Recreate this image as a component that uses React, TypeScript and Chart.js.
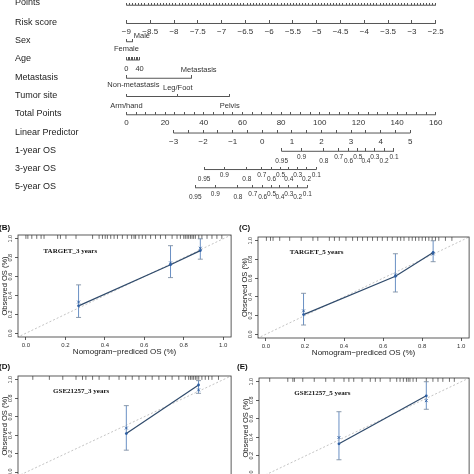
import React, { useEffect, useRef } from 'react';
import { Chart, registerables } from 'chart.js';

Chart.register(...registerables);
Chart.defaults.font.family = '"Liberation Sans", Arial, sans-serif';

// ---------- nomogram data ----------
const rowNames = ['Points', 'Risk score', 'Sex', 'Age', 'Metastasis', 'Tumor site', 'Total Points', 'Linear Predictor', '1-year OS', '3-year OS', '5-year OS'];

const pointsLabels = [0, 10, 20, 30, 40, 50, 60, 70, 80, 90, 100];
const riskScoreLabels = [-9, -8.5, -8, -7.5, -7, -6.5, -6, -5.5, -5, -4.5, -4, -3.5, -3, -2.5];
const sexLevels = ['Female', 'Male'];
const sexPoints = [0, 2.1];
const ageTicks = [0, 5, 10, 15, 20, 25, 30, 35, 40];
const ageLabels = [0, 40];
const agePointsAt40 = 4.25;
const metastasisLevels = ['Non-metastasis', 'Metastasis'];
const metastasisPoints = [0, 21.1];
const tumorSiteLevels = ['Arm/hand', 'Leg/Foot', 'Pelvis'];
const tumorSitePoints = [0, 16.6, 33.4];
const totalPointsLabels = [0, 20, 40, 60, 80, 100, 120, 140, 160];
const linearPredictorLabels = [-3, -2, -1, 0, 1, 2, 3, 4, 5];
const lpZeroTotalPoints = 70.3;
const totalPointsPerLp = 15.3;
const survivalLevels = [0.95, 0.9, 0.8, 0.7, 0.6, 0.5, 0.4, 0.3, 0.2, 0.1];
const os1yTotalPoints = [80.3, 90.6, 102.1, 109.8, 114.9, 119.7, 123.9, 128.5, 133.3, 138.4];
const os3yTotalPoints = [40.2, 50.6, 62.3, 70.0, 75.1, 79.7, 84.0, 88.6, 93.2, 98.2];
const os5yTotalPoints = [35.6, 46.0, 57.7, 65.4, 70.5, 75.1, 79.4, 84.0, 88.6, 93.6];

// ---------- calibration data ----------
const predB = [0.267, 0.733, 0.884];
const obsB = [0.29, 0.725, 0.875];
const corrB = [0.33, 0.745, 0.9];
const loB = [0.167, 0.589, 0.784];
const hiB = [0.512, 0.927, 1.0];
const rugB = [0.0, 0.01, 0.03, 0.055, 0.077, 0.092, 0.161, 0.175, 0.203, 0.254, 0.338, 0.371, 0.388, 0.402, 0.413, 0.43, 0.447, 0.464, 0.489, 0.514, 0.536, 0.548, 0.556, 0.573, 0.59, 0.607, 0.632, 0.657, 0.682, 0.708, 0.741, 0.766, 0.783, 0.8, 0.808, 0.817, 0.825, 0.834, 0.842, 0.85, 0.859, 0.876, 0.892, 0.918, 0.943, 0.968, 0.993];

const predC = [0.193, 0.663, 0.856];
const obsC = [0.21, 0.62, 0.875];
const corrC = [0.25, 0.635, 0.86];
const loC = [0.099, 0.452, 0.776];
const hiC = [0.438, 0.861, 1.0];
const rugC = [0.003, 0.024, 0.037, 0.071, 0.122, 0.181, 0.241, 0.266, 0.325, 0.351, 0.376, 0.41, 0.444, 0.469, 0.495, 0.52, 0.546, 0.571, 0.596, 0.622, 0.647, 0.673, 0.69, 0.707, 0.732, 0.749, 0.766, 0.783, 0.8, 0.817, 0.834, 0.851, 0.868, 0.885, 0.919, 0.952];

const predD = [0.509, 0.875];
const obsD = [0.418, 0.943];
const corrD = [0.478, 0.89];
const loD = [0.239, 0.853];
const hiD = [0.72, 0.99];
const rugD = [0.035, 0.119, 0.187, 0.254, 0.287, 0.304, 0.338, 0.371, 0.422, 0.472, 0.506, 0.539, 0.573, 0.607, 0.64, 0.674, 0.708, 0.741, 0.775, 0.808, 0.825, 0.834, 0.842, 0.85, 0.859, 0.867, 0.876, 0.892, 0.909, 0.926, 0.943, 0.976];

const predE = [0.371, 0.82];
const obsE = [0.329, 0.848];
const corrE = [0.397, 0.795];
const loE = [0.157, 0.702];
const hiE = [0.676, 1.0];
const rugE = [0.015, 0.108, 0.134, 0.142, 0.185, 0.244, 0.303, 0.346, 0.397, 0.422, 0.447, 0.49, 0.532, 0.558, 0.583, 0.634, 0.668, 0.685, 0.702, 0.718, 0.727, 0.736, 0.752, 0.769, 0.82, 0.854, 0.88, 0.905, 0.939, 0.964];

const SANS = '"Liberation Sans", Arial, sans-serif';
const SERIF = '"Liberation Serif", "Times New Roman", serif';

// ---------- nomogram ----------
const fmt = (v: number) => String(v).replace('-', '\u2212');
const riskToPoints = (v: number) => ((v + 9) / 6.5) * 100;
const totalToPoints = (t: number) => (t * 100) / 160;
const lpToPoints = (lp: number) => totalToPoints(lpZeroTotalPoints + totalPointsPerLp * lp);

interface RowLabel { at: number; text: string; dy: number; dx?: number }
interface NomoRow { ticks: number[]; labels: RowLabel[]; size: number }

function buildRows(): NomoRow[] {
  const pointTicks: number[] = [];
  for (let p = 0; p <= 100; p += 1) pointTicks.push(p);
  const totalTicks: number[] = [];
  for (let t = 0; t <= 160; t += 5) totalTicks.push(totalToPoints(t));
  const lpTicks: number[] = [];
  for (let l = -3; l <= 5; l += 0.5) lpTicks.push(lpToPoints(l));
  const osRow = (tp: number[]): NomoRow => ({
    ticks: tp.map(totalToPoints),
    labels: survivalLevels.map((s, i) => ({ at: totalToPoints(tp[i]), text: String(s), dy: i % 2 === 0 ? 9.7 : 6 })),
    size: 6.5,
  });
  return [
    { ticks: pointTicks, labels: pointsLabels.map(p => ({ at: p, text: String(p), dy: -8 })), size: 8 },
    { ticks: riskScoreLabels.map(riskToPoints), labels: riskScoreLabels.map(v => ({ at: riskToPoints(v), text: fmt(v), dy: 8 })), size: 8 },
    { ticks: sexPoints, labels: [
      { at: sexPoints[0], text: sexLevels[0], dy: 7 },
      { at: sexPoints[1], text: sexLevels[1], dy: -5.5, dx: 9 },
    ], size: 7.5 },
    { ticks: ageTicks.map(a => (a * agePointsAt40) / 40), labels: ageLabels.map(a => ({ at: (a * agePointsAt40) / 40, text: String(a), dy: 9 })), size: 7.5 },
    { ticks: metastasisPoints, labels: [
      { at: metastasisPoints[0], text: metastasisLevels[0], dy: 6.5, dx: 7 },
      { at: metastasisPoints[1], text: metastasisLevels[1], dy: -8.7, dx: 7 },
    ], size: 7.5 },
    { ticks: tumorSitePoints, labels: [
      { at: tumorSitePoints[0], text: tumorSiteLevels[0], dy: 9 },
      { at: tumorSitePoints[1], text: tumorSiteLevels[1], dy: -8.7 },
      { at: tumorSitePoints[2], text: tumorSiteLevels[2], dy: 9 },
    ], size: 7.5 },
    { ticks: totalTicks, labels: totalPointsLabels.map(t => ({ at: totalToPoints(t), text: String(t), dy: 8.5 })), size: 8 },
    { ticks: lpTicks, labels: linearPredictorLabels.map(l => ({ at: lpToPoints(l), text: fmt(l), dy: 8.7 })), size: 8 },
    osRow(os1yTotalPoints),
    osRow(os3yTotalPoints),
    osRow(os5yTotalPoints),
  ];
}

function makeTick(len: number, color: string): HTMLCanvasElement {
  const c = document.createElement('canvas');
  c.width = 1;
  c.height = len * 2;
  const g = c.getContext('2d');
  if (g) {
    g.fillStyle = color;
    g.fillRect(0, 0, 1, len);
  }
  return c;
}

const NOMO_W = 474;
const NOMO_H = 215;
const PX_PER_POINT = (438.3 - 125) / 100;
const X_MIN = -125 / PX_PER_POINT;
const X_MAX = X_MIN + NOMO_W / PX_PER_POINT;
const ROW_STEP = 18.78;
const Y_MIN = -2.3 / ROW_STEP;
const Y_MAX = Y_MIN + NOMO_H / ROW_STEP;

const Nomogram: React.FC = () => {
  const canvasRef = useRef<HTMLCanvasElement | null>(null);

  useEffect(() => {
    if (!canvasRef.current) return;
    const rows = buildRows();
    const tick = makeTick(3, '#555');

    const labelsPlugin = {
      id: 'nomoLabels',
      afterDatasetsDraw(chart: any) {
        const { ctx, scales } = chart;
        const xs = scales.x;
        const ys = scales.y;
        ctx.save();
        ctx.textBaseline = 'middle';
        rows.forEach((row, i) => {
          const y = ys.getPixelForValue(i);
          ctx.fillStyle = '#222';
          ctx.textAlign = 'left';
          ctx.font = `9px ${SANS}`;
          ctx.fillText(rowNames[i], 15, y - (i === 0 ? 2.5 : 1));
          ctx.textAlign = 'center';
          ctx.font = `${row.size}px ${SANS}`;
          ctx.fillStyle = '#333';
          row.labels.forEach(l => {
            ctx.fillText(l.text, xs.getPixelForValue(l.at) + (l.dx || 0), y + l.dy);
          });
        });
        ctx.restore();
      },
    };

    const chart = new Chart(canvasRef.current, {
      type: 'scatter',
      data: {
        datasets: rows.map((row, i) => ({
          data: row.ticks.map(x => ({ x, y: i })),
          showLine: true,
          borderColor: '#555',
          borderWidth: 1,
          pointStyle: tick,
          pointRadius: 2,
          pointHoverRadius: 2,
        })),
      },
      options: {
        animation: false,
        responsive: false,
        events: [],
        layout: { padding: 0 },
        plugins: { legend: { display: false }, tooltip: { enabled: false } },
        scales: {
          x: { type: 'linear', display: false, min: X_MIN, max: X_MAX },
          y: { type: 'linear', display: false, reverse: true, min: Y_MIN, max: Y_MAX },
        },
      },
      plugins: [labelsPlugin],
    } as any);

    return () => {
      chart.destroy();
    };
  }, []);

  return (
    <canvas
      ref={canvasRef}
      width={NOMO_W}
      height={NOMO_H}
      style={{ position: 'absolute', left: 0, top: 0, width: NOMO_W, height: NOMO_H }}
    />
  );
};

// ---------- calibration panels ----------
interface Box { l: number; t: number; r: number; b: number }

interface CalPanelProps {
  box: Box;
  title: string;
  titleX: number;
  titleY: number;
  pred: number[];
  obs: number[];
  corr: number[];
  lo: number[];
  hi: number[];
  rug: number[];
}

const AXIS_W = 21;
const AXIS_H = 22;
const PAD_T = 12;
const PAD_R = 3;

const CalPanel: React.FC<CalPanelProps> = ({ box, title, titleX, titleY, pred, obs, corr, lo, hi, rug }) => {
  const canvasRef = useRef<HTMLCanvasElement | null>(null);
  const width = box.r - box.l + AXIS_W + PAD_R;
  const height = box.b - box.t + PAD_T + AXIS_H;

  useEffect(() => {
    if (!canvasRef.current) return;

    const decor = {
      id: 'calDecor',
      afterDraw(chart: any) {
        const { ctx, chartArea: a, scales } = chart;
        const xs = scales.x;
        const ys = scales.y;
        ctx.save();
        ctx.strokeStyle = '#333';
        ctx.lineWidth = 0.8;
        ctx.strokeRect(a.left, a.top, a.right - a.left, a.bottom - a.top);

        ctx.textAlign = 'center';
        ctx.textBaseline = 'middle';
        ctx.fillStyle = '#333';
        ctx.font = `5.5px ${SANS}`;
        ys.ticks.forEach((t: any) => {
          ctx.save();
          ctx.translate(a.left - 7.5, ys.getPixelForValue(t.value));
          ctx.rotate(-Math.PI / 2);
          ctx.fillText(t.value.toFixed(1), 0, 0);
          ctx.restore();
        });

        ctx.fillStyle = '#222';
        ctx.font = `7.5px ${SANS}`;
        ctx.save();
        ctx.translate(a.left - 13, (a.top + a.bottom) / 2);
        ctx.rotate(-Math.PI / 2);
        ctx.fillText('Observed OS (%)', 0, 0);
        ctx.restore();

        ctx.fillStyle = '#111';
        ctx.font = `bold 7px ${SERIF}`;
        ctx.fillText(title, xs.getPixelForValue(titleX), ys.getPixelForValue(titleY));
        ctx.restore();
      },
    };

    const gridOpts = {
      display: true,
      drawOnChartArea: false,
      drawTicks: true,
      tickLength: 3,
      color: '#333',
      lineWidth: 0.8,
    };

    const chart = new Chart(canvasRef.current, {
      type: 'scatter',
      data: {
        datasets: [
          {
            data: pred.map((p, i) => ({ x: p, y: obs[i] })),
            showLine: true,
            borderColor: '#2f4a6b',
            borderWidth: 1.2,
            pointStyle: 'circle',
            pointRadius: 1.4,
            pointBackgroundColor: '#2e5fa3',
            pointBorderWidth: 0,
          },
          {
            data: pred.map((p, i) => ({ x: p, y: corr[i] })),
            pointStyle: 'crossRot',
            pointRadius: 2,
            pointBorderColor: '#2e5fa3',
            pointBorderWidth: 0.9,
          },
          ...pred.map((p, i) => ({
            data: [{ x: p, y: lo[i] }, { x: p, y: hi[i] }],
            showLine: true,
            borderColor: '#6a90c4',
            borderWidth: 1,
            pointStyle: 'line',
            pointRadius: 2.5,
            pointBorderColor: '#7f8fa3',
            pointBorderWidth: 0.9,
          })),
          {
            data: [{ x: -0.1, y: -0.1 }, { x: 1.1, y: 1.1 }],
            showLine: true,
            borderColor: '#bdbdbd',
            borderWidth: 0.9,
            borderDash: [2, 2],
            pointRadius: 0,
          },
          {
            data: rug.map(x => ({ x, y: 1.02 })),
            pointStyle: 'line',
            pointRotation: 90,
            pointRadius: 2,
            pointBorderColor: '#333',
            pointBorderWidth: 0.7,
          },
        ],
      },
      options: {
        animation: false,
        responsive: false,
        events: [],
        layout: { padding: { top: PAD_T, right: PAD_R, left: 0, bottom: 0 } },
        plugins: { legend: { display: false }, tooltip: { enabled: false } },
        scales: {
          x: {
            type: 'linear',
            min: -0.04,
            max: 1.04,
            afterFit: (s: any) => { s.height = AXIS_H; },
            grid: gridOpts,
            border: { display: false },
            ticks: {
              stepSize: 0.2,
              includeBounds: false,
              autoSkip: false,
              maxRotation: 0,
              minRotation: 0,
              padding: 2,
              color: '#333',
              font: { size: 6, family: SANS },
              callback: (v: any) => Number(v).toFixed(1),
            },
            title: {
              display: true,
              text: 'Nomogram\u2212prediced OS (%)',
              color: '#222',
              font: { size: 8, family: SANS },
              padding: { top: 0, bottom: 2.5 },
            },
          },
          y: {
            type: 'linear',
            min: -0.04,
            max: 1.04,
            afterFit: (s: any) => { s.width = AXIS_W; },
            grid: gridOpts,
            border: { display: false },
            ticks: {
              stepSize: 0.2,
              includeBounds: false,
              color: 'rgba(0,0,0,0)',
              font: { size: 5.5, family: SANS },
            },
          },
        },
      },
      plugins: [decor],
    } as any);

    return () => {
      chart.destroy();
    };
  }, [box, title, titleX, titleY, pred, obs, corr, lo, hi, rug]);

  return (
    <canvas
      ref={canvasRef}
      width={width}
      height={height}
      style={{ position: 'absolute', left: box.l - AXIS_W, top: box.t - PAD_T, width, height }}
    />
  );
};

const boxB: Box = { l: 18, t: 235, r: 233, b: 337 };
const boxC: Box = { l: 258, t: 237, r: 471, b: 338 };
const boxD: Box = { l: 18, t: 376, r: 233, b: 476 };
const boxE: Box = { l: 259, t: 378, r: 471, b: 478 };

const letterStyle = (left: number, top: number): React.CSSProperties => ({
  position: 'absolute',
  left,
  top,
  font: `bold 8px ${SANS}`,
  lineHeight: '8px',
  color: '#111',
  whiteSpace: 'nowrap',
});

const App: React.FC = () => {
  return (
    <div style={{ position: 'fixed', left: 0, top: 0, width: 474, height: 474, overflow: 'hidden', background: '#fff' }}>
      <Nomogram />
      <CalPanel box={boxB} title="TARGET_3 years" titleX={0.225} titleY={0.87}
        pred={predB} obs={obsB} corr={corrB} lo={loB} hi={hiB} rug={rugB} />
      <CalPanel box={boxC} title="TARGET_5 years" titleX={0.26} titleY={0.876}
        pred={predC} obs={obsC} corr={corrC} lo={loC} hi={hiC} rug={rugC} />
      <CalPanel box={boxD} title="GSE21257_3 years" titleX={0.28} titleY={0.873}
        pred={predD} obs={obsD} corr={corrD} lo={loD} hi={hiD} rug={rugD} />
      <CalPanel box={boxE} title="GSE21257_5 years" titleX={0.286} titleY={0.88}
        pred={predE} obs={obsE} corr={corrE} lo={loE} hi={hiE} rug={rugE} />
      <div style={letterStyle(-1, 224)}>(B)</div>
      <div style={letterStyle(239, 224)}>(C)</div>
      <div style={letterStyle(-1, 363)}>(D)</div>
      <div style={letterStyle(237, 363)}>(E)</div>
    </div>
  );
};

export default App;
